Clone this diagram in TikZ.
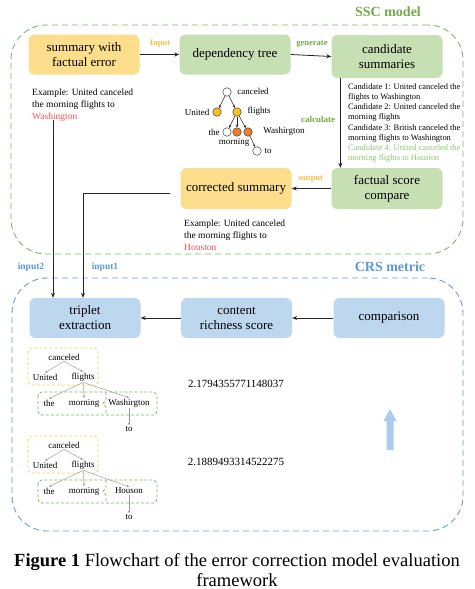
\documentclass[tikz,border=0pt]{standalone}
\usepackage{fontspec}
\setmainfont{Liberation Serif}
\usetikzlibrary{arrows.meta,calc}

\definecolor{yfill}{RGB}{252,222,140}
\definecolor{gfill}{RGB}{198,224,180}
\definecolor{bfill}{RGB}{189,215,238}
\definecolor{gline}{RGB}{125,185,95}
\definecolor{bline}{RGB}{100,160,215}
\definecolor{redtxt}{RGB}{255,80,80}
\definecolor{orgtxt}{RGB}{248,190,70}
\definecolor{gtxt}{RGB}{112,173,71}
\definecolor{ltgtxt}{RGB}{140,200,110}
\definecolor{btxt}{RGB}{91,155,213}
\definecolor{onode}{RGB}{237,125,49}
\definecolor{ynode}{RGB}{252,190,30}
\definecolor{ydash}{RGB}{252,212,90}
\definecolor{bigarrow}{RGB}{172,204,236}

\newcommand\mytree[3]{%
\begin{scope}[shift={(0,#2)}]
 \draw[ydashbox] (28,348) rectangle (98,385);
 \draw[gdashbox] (38,392) rectangle (157,415);
 \draw[gdashbox, rounded corners=0pt] (106,392) -- (106,400) -- (103,403.5) -- (106,407) -- (106,415);
 \node[tl] (#1c) at (64,357) {canceled};
 \node[tl] (#1u) at (45,377) {United};
 \node[tl] (#1f) at (83,377) {flights};
 \node[tl] (#1t) at (49,403) {the};
 \node[tl] (#1m) at (84,403) {morning};
 \node[tl] (#1w) at (129,403) {#3};
 \node[tl] (#1o) at (129,429) {to};
 \draw[garr] (#1c.south) -- (#1u.north);
 \draw[garr] (#1c.south) -- (#1f.north);
 \draw[garr] (#1f.south) -- (#1t.north);
 \draw[garr] (#1f.south) -- (#1m.north);
 \draw[garr] (#1f.south) -- (#1w.north);
 \draw[garr] (#1w.south) -- (#1o.north);
\end{scope}}

\begin{document}
\begin{tikzpicture}[x=1pt,y=-1pt,
  box/.style={rounded corners=6pt, minimum width=111pt, minimum height=40pt, align=center,
    font=\fontsize{13}{15}\selectfont, inner sep=2pt},
  ybox/.style={box, fill=yfill},
  gbox/.style={box, fill=gfill},
  bbox/.style={box, fill=bfill},
  arr/.style={-{Stealth[length=5pt,width=4pt]}, line width=0.8pt, black!85},
  lbl/.style={font=\fontsize{8.5}{10}\selectfont\bfseries, inner sep=1pt},
  ex/.style={font=\fontsize{9.5}{11.8}\selectfont, align=left, anchor=north west, inner sep=0pt},
  cnd/.style={font=\fontsize{8.4}{10.2}\selectfont, align=left, anchor=north west, inner sep=0pt},
  tl/.style={font=\fontsize{9}{10}\selectfont, inner sep=1pt},
  dl/.style={font=\fontsize{9}{10}\selectfont, inner sep=1pt},
  dot/.style={circle, draw=black!75, line width=0.5pt, minimum size=8.5pt, inner sep=0pt},
  tarr/.style={-{Stealth[length=3pt,width=2.5pt]}, line width=0.5pt, black!85},
  garr/.style={-{Stealth[length=2.5pt,width=2.5pt]}, line width=0.45pt, black!40},
  ydashbox/.style={draw=ydash, dash pattern=on 3pt off 2pt, line width=0.8pt, rounded corners=4pt},
  gdashbox/.style={draw=gline, dash pattern=on 3pt off 2pt, line width=0.8pt, rounded corners=4pt},
  region/.style={dash pattern=on 6pt off 4pt, line width=0.9pt, rounded corners=35pt, inner sep=0pt},
]
\useasboundingbox (0,0) rectangle (474,589);
\fill[white] (0,0) rectangle (474,589);

% ===== regions =====
\node[region, draw=gline, minimum width=452pt, minimum height=229pt] (ssc) at (237,139.5) {};
\node[region, draw=bline, minimum width=451pt, minimum height=253pt] (crs) at (237.5,404.5) {};
\node[font=\fontsize{14}{16}\selectfont\bfseries, text=gtxt] (ssct) at (388,12) {SSC model};
\node[font=\fontsize{14}{16}\selectfont\bfseries, text=btxt] (crst) at (390,267) {CRS metric};

% ===== SSC boxes =====
\node[ybox] (sfe) at (84,54.5) {summary with\\factual error};
\node[gbox] (dep) at (235,54.5) {dependency tree};
\node[gbox, minimum height=43pt] (cand) at (387,56.5) {candidate\\summaries};
\node[gbox, minimum height=41pt] (fsc) at (387,188.5) {factual score\\compare};
\node[ybox, minimum height=41pt] (cor) at (236,188.5) {corrected summary};

\draw[arr] (sfe.east) -- (dep.west);
\node[lbl, text=orgtxt] (linput) at (160,44) {Input};
\draw[arr] (dep.east) -- (cand.west);
\node[lbl, text=gtxt] (lgen) at (312,44) {generate};
\draw[arr] ($(cand.south west)+(9,0)$) -- ($(fsc.north west)+(9,0)$);
\node[lbl, text=gtxt, font=\fontsize{9}{10}\selectfont\bfseries] (lcalc) at (318,119) {calculate};
\draw[arr] (fsc.west) -- (cor.east);
\node[lbl, text=orgtxt] (lout) at (311,179) {output};

% examples
\node[ex] (ex1) at (32,89) {Example: United canceled\\the morning flights to\\\textcolor{redtxt}{Washington}};
\node[ex] (ex2) at (184,220) {Example: United canceled\\the morning flights to\\\textcolor{redtxt}{Houston}};

% candidates
\node[cnd] (cands) at (348,83.3) {Candidate 1: United canceled the\\flights to Washington\\Candidate 2: United canceled the\\morning flights\\Candidate 3: British canceled the\\morning flights to Washington\\\textcolor{ltgtxt}{Candidate 4: United canceled the}\\\textcolor{ltgtxt}{morning flights to Houston}};

% dependency tree
\node[dot, fill=white] (dc) at (227,92) {};
\node[dot, fill=ynode] (du) at (217,112) {};
\node[dot, fill=ynode] (df) at (237,112) {};
\node[dot, fill=white] (dt) at (227,132) {};
\node[dot, fill=onode] (dm) at (237,132) {};
\node[dot, fill=onode] (dw) at (248,132) {};
\node[dot, fill=white] (do) at (257,151) {};
\draw[tarr] (dc) -- (du);
\draw[tarr] (dc) -- (df);
\draw[tarr] (df) -- (dt);
\draw[tarr] (df) -- (dm);
\draw[tarr] (df) -- (dw);
\draw[tarr] (dw) -- (do);
\node[dl] (dcl) at (253,91) {canceled};
\node[dl] (dul) at (197,112) {United};
\node[dl] (dfl) at (259,111) {flights};
\node[dl] (dtl) at (214,132) {the};
\node[dl] (dml) at (234,142) {morning};
\node[dl] (dwl) at (284,131) {Washirgton};
\node[dl] (dol) at (268,151) {to};

% ===== CRS boxes =====
\node[bbox] (trip) at (85,318) {triplet\\extraction};
\node[bbox] (crsc) at (236.5,318) {content\\richness score};
\node[bbox] (cmp) at (389,318) {comparison};
\draw[arr] (cmp.west) -- (crsc.east);
\draw[arr] (crsc.west) -- (trip.east);

% inputs
\coordinate (in2s) at (53,120);
\draw[arr] (in2s) -- (in2s |- trip.north);
\coordinate (in1s) at (170,193);
\coordinate (in1c) at (83,193);
\draw[arr] (in1s) -- (in1c) -- (in1c |- trip.north);
\node[lbl, text=btxt, font=\fontsize{9.5}{11}\selectfont\bfseries] (lin2) at (31,267) {input2};
\node[lbl, text=btxt, font=\fontsize{9.5}{11}\selectfont\bfseries] (lin1) at (105,267) {input1};

% trees
\mytree{a}{0}{Washirgton}
\mytree{b}{88}{Houson}

% scores
\node[font=\fontsize{11}{12}\selectfont] (s1) at (236,384) {2.1794355771148037};
\node[font=\fontsize{11}{12}\selectfont] (s2) at (236,462) {2.1889493314522275};

% big arrow
\fill[bigarrow] (386.5,450) -- (386.5,421) -- (383.5,421) -- (390,409) -- (396.5,421) -- (393.5,421) -- (393.5,450) -- cycle;

% caption
\node[font=\fontsize{18.5}{19.5}\selectfont, align=center] (cap) at (237,570) {\textbf{Figure 1} Flowchart of the error correction model evaluation\\framework};
\end{tikzpicture}
\end{document}
